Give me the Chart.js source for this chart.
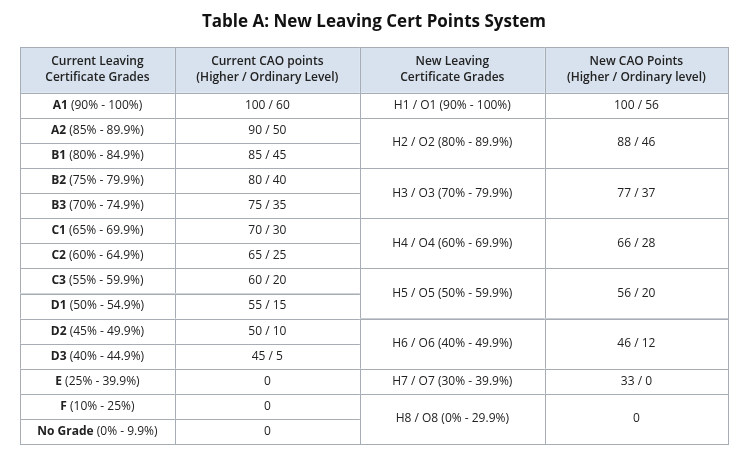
<!DOCTYPE html>
<html>
<head>
<meta charset="utf-8">
<script src="https://cdn.jsdelivr.net/npm/chart.js@4/dist/chart.umd.min.js"></script>
<style>
  html, body { margin: 0; padding: 0; background: #fff; }
  #wrap { width: 750px; height: 459px; }
</style>
</head>
<body>
<div id="wrap"><canvas id="c"></canvas></div>
<script>
const headers = [
  ["Current Leaving", "Certificate Grades"],
  ["Current CAO points", "(Higher / Ordinary Level)"],
  ["New Leaving", "Certificate Grades"],
  ["New CAO Points", "(Higher / Ordinary level)"],
];
const grades = ["A1", "A2", "B1", "B2", "B3", "C1", "C2", "C3", "D1", "D2", "D3", "E", "F", "No Grade"];
const ranges = ["(90% - 100%)", "(85% - 89.9%)", "(80% - 84.9%)", "(75% - 79.9%)", "(70% - 74.9%)",
  "(65% - 69.9%)", "(60% - 64.9%)", "(55% - 59.9%)", "(50% - 54.9%)", "(45% - 49.9%)",
  "(40% - 44.9%)", "(25% - 39.9%)", "(10% - 25%)", "(0% - 9.9%)"];
const currentPoints = ["100 / 60", "90 / 50", "85 / 45", "80 / 40", "75 / 35", "70 / 30", "65 / 25",
  "60 / 20", "55 / 15", "50 / 10", "45 / 5", "0", "0", "0"];
const newGrades = ["H1 / O1 (90% - 100%)", "H2 / O2 (80% - 89.9%)", "H3 / O3 (70% - 79.9%)",
  "H4 / O4 (60% - 69.9%)", "H5 / O5 (50% - 59.9%)", "H6 / O6 (40% - 49.9%)",
  "H7 / O7 (30% - 39.9%)", "H8 / O8 (0% - 29.9%)"];
const newPoints = ["100 / 56", "88 / 46", "77 / 37", "66 / 28", "56 / 20", "46 / 12", "33 / 0", "0"];
const newSpans = [1, 2, 2, 2, 2, 2, 1, 2];

// column edges in x units, header height in row units
const colEdges = [0, 0.875, 1.92, 2.965, 4];
const headerH = 1.83;

const FONT = '"Open Sans", "Noto Sans", sans-serif';
const BORDER = "#a7adb4";
const HEAD_BG = "#d8e2ee";
const TEXT = "#222";

const tablePlugin = {
  id: "table",
  afterDraw(chart) {
    const { ctx, scales: { x, y } } = chart;
    const px = (v) => x.getPixelForValue(v);
    const py = (v) => y.getPixelForValue(v);
    const rowTop = (i) => headerH + i;
    ctx.save();

    // title
    ctx.fillStyle = "#111";
    ctx.font = `bold 17px ${FONT}`;
    ctx.textAlign = "center";
    ctx.textBaseline = "middle";
    ctx.fillText("Table A: New Leaving Cert Points System", (px(0) + px(4)) / 2, 22);

    const cell = (c, r0, r1, fill) => {
      const x0 = px(colEdges[c]), x1 = px(colEdges[c + 1]);
      const y0 = py(r0), y1 = py(r1);
      if (fill) { ctx.fillStyle = fill; ctx.fillRect(x0, y0, x1 - x0, y1 - y0); }
      ctx.strokeStyle = BORDER;
      ctx.lineWidth = 1;
      ctx.strokeRect(Math.round(x0) + 0.5, Math.round(y0) + 0.5, Math.round(x1 - x0), Math.round(y1 - y0));
      return { cx: (x0 + x1) / 2, cy: (y0 + y1) / 2 };
    };

    // header
    headers.forEach((lines, c) => {
      const { cx, cy } = cell(c, 0, headerH, HEAD_BG);
      ctx.fillStyle = TEXT;
      ctx.font = `600 12px ${FONT}`;
      ctx.fillText(lines[0], cx, cy - 8);
      ctx.fillText(lines[1], cx, cy + 8);
    });

    // left columns
    grades.forEach((g, i) => {
      const a = cell(0, rowTop(i), rowTop(i + 1), "#fff");
      ctx.font = `bold 12px ${FONT}`;
      const gw = ctx.measureText(g + " ").width;
      ctx.font = `12px ${FONT}`;
      const rw = ctx.measureText(ranges[i]).width;
      const start = a.cx - (gw + rw) / 2;
      ctx.fillStyle = TEXT;
      ctx.textAlign = "left";
      ctx.font = `bold 12px ${FONT}`;
      ctx.fillText(g, start, a.cy);
      ctx.font = `12px ${FONT}`;
      ctx.fillText(ranges[i], start + gw, a.cy);
      ctx.textAlign = "center";
      const b = cell(1, rowTop(i), rowTop(i + 1), "#fff");
      ctx.fillStyle = TEXT;
      ctx.fillText(currentPoints[i], b.cx, b.cy);
    });

    // right columns (merged)
    let r = 0;
    newGrades.forEach((g, k) => {
      const r0 = rowTop(r), r1 = rowTop(r + newSpans[k]);
      const a = cell(2, r0, r1, "#fff");
      ctx.fillStyle = TEXT;
      ctx.font = `12px ${FONT}`;
      ctx.fillText(g, a.cx, a.cy);
      const b = cell(3, r0, r1, "#fff");
      ctx.fillStyle = TEXT;
      ctx.fillText(newPoints[k], b.cx, b.cy);
      r += newSpans[k];
    });

    ctx.restore();
  },
};

new Chart(document.getElementById("c"), {
  type: "scatter",
  data: { datasets: [{ data: [] }] },
  options: {
    responsive: true,
    maintainAspectRatio: false,
    animation: false,
    layout: { padding: { left: 20, right: 22, top: 47, bottom: 15 } },
    plugins: { legend: { display: false }, tooltip: { enabled: false } },
    scales: {
      x: { type: "linear", min: 0, max: 4, display: false },
      y: { type: "linear", min: 0, max: headerH + grades.length, reverse: true, display: false },
    },
  },
  plugins: [tablePlugin],
});
</script>
</body>
</html>
